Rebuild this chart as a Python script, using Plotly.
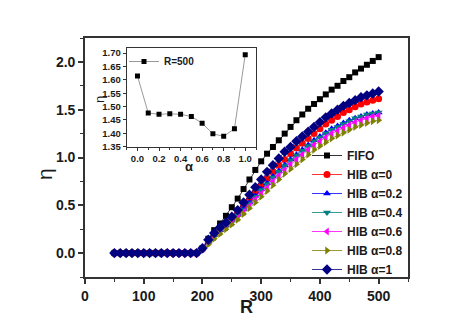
import plotly.graph_objects as go

# ---------------- data ----------------
R = list(range(50, 510, 10))  # 50..500

zeros = [0.0, 0.0, 0.0, 0.0, 0.0, 0.0, 0.0, 0.0, 0.0, 0.0, 0.0, 0.0, 0.0, 0.0, 0.0]  # R = 50..190

fifo = zeros + [0.05, 0.15, 0.24, 0.31, 0.39, 0.48, 0.57, 0.67, 0.77, 0.87, 0.96,
                1.04, 1.11, 1.18, 1.25, 1.32, 1.39, 1.45, 1.51, 1.56, 1.61,
                1.66, 1.71, 1.75, 1.80, 1.84, 1.89, 1.93, 1.97, 2.01, 2.05]
hib_a0 = zeros + [0.05, 0.13, 0.20, 0.25, 0.30, 0.36, 0.42, 0.49, 0.56, 0.64, 0.71,
                  0.78, 0.85, 0.92, 0.98, 1.04, 1.10, 1.15, 1.20, 1.25, 1.30,
                  1.35, 1.39, 1.43, 1.47, 1.50, 1.53, 1.56, 1.58, 1.60, 1.614]
hib_a02 = zeros + [0.05, 0.12, 0.19, 0.24, 0.29, 0.34, 0.40, 0.46, 0.53, 0.60, 0.67,
                   0.73, 0.80, 0.86, 0.92, 0.98, 1.03, 1.08, 1.13, 1.18, 1.22,
                   1.26, 1.30, 1.33, 1.36, 1.39, 1.41, 1.43, 1.45, 1.46, 1.471]
hib_a04 = zeros + [0.05, 0.12, 0.18, 0.23, 0.28, 0.33, 0.39, 0.45, 0.52, 0.59, 0.66,
                   0.72, 0.79, 0.85, 0.91, 0.97, 1.02, 1.07, 1.12, 1.17, 1.21,
                   1.25, 1.29, 1.32, 1.35, 1.38, 1.41, 1.43, 1.45, 1.46, 1.471]
hib_a06 = zeros + [0.04, 0.11, 0.17, 0.22, 0.27, 0.32, 0.37, 0.43, 0.49, 0.56, 0.62,
                   0.68, 0.75, 0.81, 0.87, 0.93, 0.98, 1.03, 1.08, 1.13, 1.17,
                   1.21, 1.25, 1.28, 1.31, 1.34, 1.37, 1.39, 1.41, 1.43, 1.438]
hib_a08 = zeros + [0.03, 0.09, 0.15, 0.20, 0.25, 0.30, 0.35, 0.41, 0.47, 0.53, 0.59,
                   0.65, 0.71, 0.77, 0.83, 0.88, 0.93, 0.98, 1.03, 1.08, 1.12,
                   1.16, 1.20, 1.23, 1.26, 1.29, 1.32, 1.34, 1.36, 1.38, 1.389]
hib_a1 = zeros + [0.05, 0.14, 0.21, 0.27, 0.32, 0.38, 0.45, 0.53, 0.61, 0.69, 0.77,
                  0.85, 0.92, 0.99, 1.06, 1.11, 1.17, 1.22, 1.27, 1.32, 1.37,
                  1.42, 1.46, 1.50, 1.54, 1.57, 1.60, 1.63, 1.65, 1.67, 1.69]

series_names = ["FIFO", "HIB α=0", "HIB α=0.2", "HIB α=0.4", "HIB α=0.6", "HIB α=0.8", "HIB α=1"]
series_values = [fifo, hib_a0, hib_a02, hib_a04, hib_a06, hib_a08, hib_a1]

# inset data (R = 500)
alpha = [0.0, 0.1, 0.2, 0.3, 0.4, 0.5, 0.6, 0.7, 0.8, 0.9, 1.0]
eta_r500 = [1.614, 1.476, 1.471, 1.473, 1.471, 1.463, 1.438, 1.398, 1.389, 1.417, 1.694]

x_ticks = [0, 100, 200, 300, 400, 500]
y_ticks = [0.0, 0.5, 1.0, 1.5, 2.0]
inset_x_ticks = [0.0, 0.2, 0.4, 0.6, 0.8, 1.0]
inset_y_ticks = [1.35, 1.40, 1.45, 1.50, 1.55, 1.60, 1.65, 1.70]

# ---------------- styles ----------------
colors = ["#000000", "#FF0000", "#0000FF", "#008080", "#FF00FF", "#808000", "#000080"]
symbols = ["square", "circle", "triangle-up", "triangle-down", "triangle-left", "triangle-right", "diamond"]
sizes = [6, 7, 7, 7, 7, 7, 8]

FONT = "Liberation Sans"
AXC = "#333333"
TXT = "#1a1a1a"

def bold(vals, fmt):
    return ["<b>" + format(v, fmt) + "</b>" for v in vals]

fig = go.Figure()

for name, vals, c, s, sz in zip(series_names, series_values, colors, symbols, sizes):
    fig.add_trace(go.Scatter(
        x=R, y=vals, name=name, mode="lines+markers",
        line=dict(color=c, width=0.8),
        marker=dict(symbol=s, size=sz, color=c, line=dict(width=0)),
        xaxis="x", yaxis="y", legend="legend",
    ))

fig.add_trace(go.Scatter(
    x=alpha, y=eta_r500, name="R=500", mode="lines+markers",
    line=dict(color="#9a9a9a", width=1),
    marker=dict(symbol="square", size=5, color="#000000"),
    xaxis="x2", yaxis="y2", legend="legend2",
))

ml, mr, mt, mb = 85, 66, 38, 55
W, H = 474, 332
pw, ph = W - ml - mr, H - mt - mb

def px(x):
    return (x - ml) / pw

def py(y):
    return (H - mb - y) / ph

axis_common = dict(showgrid=False, zeroline=False, showline=True, mirror=True,
                   linecolor=AXC, ticks="outside", tickcolor=AXC)

fig.update_layout(
    width=W, height=H,
    margin=dict(l=ml, r=mr, t=mt, b=mb),
    paper_bgcolor="white", plot_bgcolor="white",
    font=dict(family=FONT, color=TXT),
    xaxis=dict(domain=[0, 1], range=[0, 550], tickvals=x_ticks, ticktext=bold(x_ticks, "d"),
               linewidth=1.6, ticklen=5, tickwidth=1.5, anchor="y",
               tickfont=dict(size=14, family=FONT, color=TXT),
               minor=dict(dtick=50, tick0=0, ticklen=3, tickwidth=1.2, ticks="outside", tickcolor=AXC),
               **axis_common),
    yaxis=dict(domain=[0, 1], range=[-0.25, 2.25], tickvals=y_ticks, ticktext=bold(y_ticks, ".1f"),
               linewidth=1.6, ticklen=5, tickwidth=1.5, anchor="x",
               tickfont=dict(size=14, family=FONT, color=TXT),
               minor=dict(dtick=0.25, tick0=0, ticklen=3, tickwidth=1.2, ticks="outside", tickcolor=AXC),
               **axis_common),
    xaxis2=dict(domain=[px(126.7), px(256)], range=[-0.1, 1.1], tickvals=inset_x_ticks,
                ticktext=bold(inset_x_ticks, ".1f"),
                anchor="y2", linewidth=1, ticklen=3, tickwidth=1,
                tickfont=dict(size=9.5, family=FONT, color=TXT),
                minor=dict(dtick=0.1, tick0=0, ticklen=2, ticks="outside", tickcolor=AXC),
                **axis_common),
    yaxis2=dict(domain=[py(146.7), py(47.7)], range=[1.35, 1.72], tickvals=inset_y_ticks,
                ticktext=bold(inset_y_ticks, ".2f"),
                anchor="x2", linewidth=1, ticklen=3, tickwidth=1,
                tickfont=dict(size=9.5, family=FONT, color=TXT),
                **axis_common),
    legend=dict(x=px(307), y=py(141), xanchor="left", yanchor="top",
                bgcolor="rgba(0,0,0,0)", borderwidth=0,
                font=dict(size=12, weight="bold", family=FONT, color=TXT),
                itemwidth=30, tracegroupgap=0),
    legend2=dict(x=px(124), y=py(47), xanchor="left", yanchor="top",
                 bgcolor="rgba(0,0,0,0)", borderwidth=0,
                 font=dict(size=10, weight="bold", family=FONT, color=TXT)),
    showlegend=True,
    annotations=[
        dict(text="<b>R</b>", x=px(246), y=py(307), xref="paper", yref="paper",
             showarrow=False, font=dict(size=18, family=FONT, color=TXT),
             xanchor="center", yanchor="middle"),
        dict(text="η", x=px(45), y=py(174), xref="paper", yref="paper", textangle=-90,
             showarrow=False, font=dict(size=21, family=FONT, color=TXT),
             xanchor="center", yanchor="middle"),
        dict(text="<b>α</b>", x=px(189), y=py(166), xref="paper", yref="paper",
             showarrow=False, font=dict(size=13, family=FONT, color=TXT),
             xanchor="center", yanchor="middle"),
        dict(text="η", x=px(99), y=py(100), xref="paper", yref="paper", textangle=-90,
             showarrow=False, font=dict(size=13, family=FONT, color=TXT),
             xanchor="center", yanchor="middle"),
    ],
)

fig.write_html("out.html")
